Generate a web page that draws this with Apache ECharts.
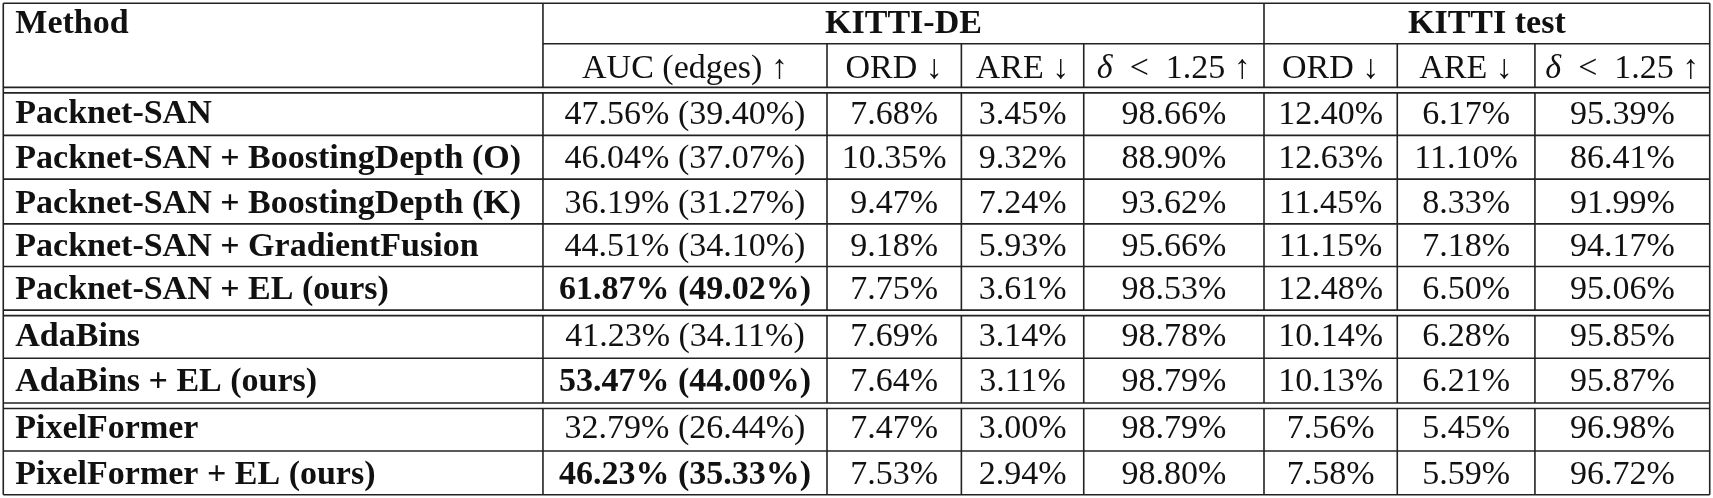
<!DOCTYPE html>
<html>
<head>
<meta charset="utf-8">
<script src="https://cdn.jsdelivr.net/npm/echarts@6/dist/echarts.min.js"></script>
<style>html,body{margin:0;padding:0;background:#fff}#main{width:1713px;height:498px}</style>
</head>
<body>
<div id="main"></div>
<script>
// table content
var methods = ['Packnet-SAN', 'Packnet-SAN + BoostingDepth (O)', 'Packnet-SAN + BoostingDepth (K)',
  'Packnet-SAN + GradientFusion', 'Packnet-SAN + EL (ours)', 'AdaBins', 'AdaBins + EL (ours)',
  'PixelFormer', 'PixelFormer + EL (ours)'];
var auc = ['47.56% (39.40%)', '46.04% (37.07%)', '36.19% (31.27%)', '44.51% (34.10%)', '61.87% (49.02%)',
  '41.23% (34.11%)', '53.47% (44.00%)', '32.79% (26.44%)', '46.23% (35.33%)'];
var deOrd = ['7.68%', '10.35%', '9.47%', '9.18%', '7.75%', '7.69%', '7.64%', '7.47%', '7.53%'];
var deAre = ['3.45%', '9.32%', '7.24%', '5.93%', '3.61%', '3.14%', '3.11%', '3.00%', '2.94%'];
var deDelta = ['98.66%', '88.90%', '93.62%', '95.66%', '98.53%', '98.78%', '98.79%', '98.79%', '98.80%'];
var tOrd = ['12.40%', '12.63%', '11.45%', '11.15%', '12.48%', '10.14%', '10.13%', '7.56%', '7.58%'];
var tAre = ['6.17%', '11.10%', '8.33%', '7.18%', '6.50%', '6.28%', '6.21%', '5.45%', '5.59%'];
var tDelta = ['95.39%', '86.41%', '91.99%', '94.17%', '95.06%', '95.85%', '95.87%', '96.98%', '96.72%'];
var boldAucRows = [4, 6, 8];
var subHeaders = ['AUC (edges) ↑', 'ORD ↓', 'ARE ↓', '{i|δ}  <  1.25 ↑', 'ORD ↓', 'ARE ↓', '{i|δ}  <  1.25 ↑'];

// geometry in a 1568 x 456 frame (scaled by the axes)
var colEdges = [3, 497, 757, 880, 992, 1157, 1279, 1405, 1565];
var rowCenters = [105, 146, 187, 226, 266, 309, 350, 393, 435];
var hLines = [[3, 3, 1565], [40, 497, 1565], [80, 3, 1565], [85, 3, 1565], [124, 3, 1565], [164, 3, 1565],
  [205, 3, 1565], [244, 3, 1565], [284, 3, 1565], [289, 3, 1565], [328, 3, 1565], [369, 3, 1565],
  [374, 3, 1565], [413, 3, 1565], [453, 3, 1565]];

var cells = [];
cells.push([14, 22, 'Method', 1, 'left']);
cells.push([(497 + 1157) / 2, 22, 'KITTI-DE', 1, 'center']);
cells.push([(1157 + 1565) / 2, 22, 'KITTI test', 1, 'center']);
subHeaders.forEach(function (t, i) {
  cells.push([(colEdges[i + 1] + colEdges[i + 2]) / 2, 63, t, 0, 'center']);
});
var cols = [auc, deOrd, deAre, deDelta, tOrd, tAre, tDelta];
methods.forEach(function (m, r) {
  var y = rowCenters[r];
  cells.push([14, y, m, 1, 'left']);
  cols.forEach(function (arr, c) {
    var b = (c === 0 && boldAucRows.indexOf(r) >= 0) ? 1 : 0;
    cells.push([(colEdges[c + 1] + colEdges[c + 2]) / 2, y, arr[r], b, 'center']);
  });
});

// vertical line segments: [x, y0, y1]
var vLines = [];
colEdges.forEach(function (x, i) {
  if (i === 0 || i === 8) { vLines.push([x, 3, 453]); return; }
  if (i === 1 || i === 5) vLines.push([x, 3, 80]);
  else vLines.push([x, 40, 80]);
  [[85, 284], [289, 369], [374, 453]].forEach(function (s) { vLines.push([x, s[0], s[1]]); });
});

var myChart = echarts.init(document.getElementById('main'));
var font = '"Liberation Serif", "DejaVu Serif", serif';
var option = {
  animation: false,
  grid: { left: 0, right: 0, top: 0, bottom: 0 },
  xAxis: { type: 'value', min: 0, max: 1568, show: false },
  yAxis: { type: 'value', min: 0, max: 456, inverse: true, show: false },
  series: [
    {
      type: 'custom',
      data: hLines,
      renderItem: function (params, api) {
        var a = api.coord([api.value(1), api.value(0)]);
        var b = api.coord([api.value(2), api.value(0)]);
        return { type: 'line', shape: { x1: a[0], y1: a[1], x2: b[0], y2: b[1] }, style: { stroke: '#222', lineWidth: 1.6 } };
      }
    },
    {
      type: 'custom',
      data: vLines,
      renderItem: function (params, api) {
        var a = api.coord([api.value(0), api.value(1)]);
        var b = api.coord([api.value(0), api.value(2)]);
        return { type: 'line', shape: { x1: a[0], y1: a[1], x2: b[0], y2: b[1] }, style: { stroke: '#222', lineWidth: 1.6 } };
      }
    },
    {
      type: 'custom',
      data: cells.map(function (c) { return [c[0], c[1]]; }),
      renderItem: function (params, api) {
        var c = cells[params.dataIndex];
        var p = api.coord([c[0], c[1]]);
        var fs = c[3] ? 34 : 34;
        return {
          type: 'text',
          style: {
            x: p[0], y: p[1], text: c[2], align: c[4], verticalAlign: 'middle',
            fill: '#111', fontFamily: font, fontSize: fs, fontWeight: c[3] ? 'bold' : 'normal',
            rich: { i: { fontStyle: 'italic', fontFamily: font, fontSize: fs } }
          }
        };
      }
    }
  ]
};
myChart.setOption(option);
</script>
</body>
</html>
